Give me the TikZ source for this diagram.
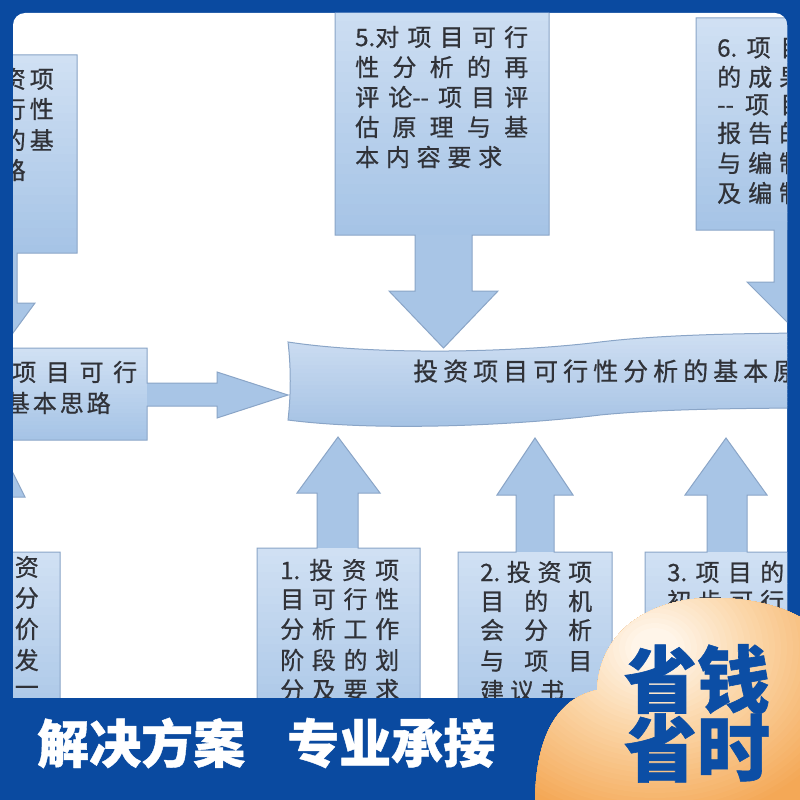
\documentclass[tikz,border=0pt]{standalone}
\usepackage{fontspec}
\newfontfamily\cjk[BoldFeatures={FakeBold=0.8}]{Noto Sans CJK SC}
\newfontfamily\cjkt[FakeBold=0.7]{Noto Sans CJK SC}
\definecolor{framecol}{RGB}{10,74,160}
\definecolor{boxtop}{RGB}{208,224,243}
\definecolor{boxbot}{RGB}{166,196,230}
\definecolor{arrcol}{RGB}{168,197,230}
\definecolor{bordcol}{RGB}{138,165,199}
\definecolor{bantop}{RGB}{206,222,242}
\definecolor{banbot}{RGB}{162,192,227}
\definecolor{txtcol}{RGB}{48,50,56}
\definecolor{cla}{RGB}{255,245,233}
\definecolor{clb}{RGB}{251,214,168}
\definecolor{clc}{RGB}{244,168,86}
\definecolor{slogan}{RGB}{12,78,165}
\newcommand\gradbox[4]{%
  \foreach \gi in {0,...,23}{%
    \pgfmathsetmacro\gp{100-\gi*100/23}%
    \fill[boxtop!\gp!boxbot] (#1,{#2+(#4-#2)*\gi/24}) rectangle (#3,{#2+(#4-#2)*(\gi+1)/24+0.4});
  }}
\tikzset{
  tx/.style={inner sep=0pt, anchor=west, font=\cjkt\fontsize{24}{24}\selectfont, text=txtcol},
  txe/.style={tx, anchor=east},
  outline/.style={draw=bordcol, line width=1pt, line join=miter},
}
\begin{document}
\begin{tikzpicture}[x=1pt,y=-1pt]
\useasboundingbox (0,0) rectangle (800,800);
\fill[framecol] (0,0) rectangle (800,800);
\fill[white, rounded corners=12] (13,13) rectangle (787,760);
\begin{scope}
\clip[rounded corners=12] (13,13) rectangle (787,760);
% banner
\begin{scope}
\clip (288,342) .. controls (380,356) and (520,352) .. (600,342)
  .. controls (650,336) and (720,333) .. (830,333) -- (830,408)
  .. controls (720,408) and (650,410) .. (600,415)
  .. controls (520,425) and (380,432) .. (288,420)
  .. controls (291,395) and (291,367) .. (288,342) -- cycle;
\foreach \gi in {0,...,24}{%
  \pgfmathsetmacro\gp{100-\gi*4}%
  \fill[bantop!\gp!banbot] (280,{333+\gi*4}) rectangle (840,{337.5+\gi*4});
}
\end{scope}
\draw[outline]
  (288,342) .. controls (380,356) and (520,352) .. (600,342)
  .. controls (650,336) and (720,333) .. (830,333) -- (830,408)
  .. controls (720,408) and (650,410) .. (600,415)
  .. controls (520,425) and (380,432) .. (288,420)
  .. controls (291,395) and (291,367) .. (288,342) -- cycle;
% box 5
\fill[arrcol] (335,-10) -- (549,-10) -- (549,235) -- (472,235) -- (472,291) -- (498,291) -- (443.5,348) -- (389,291) -- (415,291) -- (415,235) -- (335,235) -- cycle;
\gradbox{335}{-10}{549}{235}
\draw[outline] (335,-10) -- (549,-10) -- (549,235) -- (472,235) -- (472,291) -- (498,291) -- (443.5,348) -- (389,291) -- (415,291) -- (415,235) -- (335,235) -- cycle;
% box 6
\fill[arrcol] (696,18) -- (860,18) -- (860,230) -- (830,230) -- (830,282) -- (857,282) -- (802,337) -- (747,282) -- (774,282) -- (774,230) -- (696,230) -- cycle;
\gradbox{696}{18}{860}{230}
\draw[outline] (696,18) -- (860,18) -- (860,230) -- (830,230) -- (830,282) -- (857,282) -- (802,337) -- (747,282) -- (774,282) -- (774,230) -- (696,230) -- cycle;
% top-left box
\fill[arrcol] (-100,55) -- (77,55) -- (77,253) -- (17,253) -- (17,303) -- (35,303) -- (2,348) -- (-31,303) -- (-13,303) -- (-13,253) -- (-100,253) -- cycle;
\gradbox{-100}{55}{77}{253}
\draw[outline] (-100,55) -- (77,55) -- (77,253) -- (17,253) -- (17,303) -- (35,303) -- (2,348) -- (-31,303) -- (-13,303) -- (-13,253) -- (-100,253) -- cycle;
% middle-left box
\fill[arrcol] (-100,348) -- (147,348) -- (147,383) -- (217,383) -- (217,372) -- (288,395) -- (217,418) -- (217,406) -- (147,406) -- (147,440) -- (-100,440) -- cycle;
\gradbox{-100}{348}{147}{440}
\draw[outline] (-100,348) -- (147,348) -- (147,383) -- (217,383) -- (217,372) -- (288,395) -- (217,418) -- (217,406) -- (147,406) -- (147,440) -- (-100,440) -- cycle;
% bottom-left box
\fill[arrcol] (-100,740) -- (-100,552) -- (-13,552) -- (-13,497) -- (-27,497) -- (-1,445) -- (25,497) -- (11,497) -- (11,552) -- (60,552) -- (60,740) -- cycle;
\gradbox{-100}{552}{60}{740}
\draw[outline] (-100,740) -- (-100,552) -- (-13,552) -- (-13,497) -- (-27,497) -- (-1,445) -- (25,497) -- (11,497) -- (11,552) -- (60,552) -- (60,740) -- cycle;
% box 1
\fill[arrcol] (257,740) -- (257,548) -- (317,548) -- (317,493) -- (297,493) -- (338,437) -- (380,493) -- (358,493) -- (358,548) -- (420,548) -- (420,740) -- cycle;
\gradbox{257}{548}{420}{740}
\draw[outline] (257,740) -- (257,548) -- (317,548) -- (317,493) -- (297,493) -- (338,437) -- (380,493) -- (358,493) -- (358,548) -- (420,548) -- (420,740) -- cycle;
% box 2
\fill[arrcol] (458,740) -- (458,552) -- (516,552) -- (516,495) -- (497,495) -- (535,438) -- (573,495) -- (554,495) -- (554,552) -- (612,552) -- (612,740) -- cycle;
\gradbox{458}{552}{612}{740}
\draw[outline] (458,740) -- (458,552) -- (516,552) -- (516,495) -- (497,495) -- (535,438) -- (573,495) -- (554,495) -- (554,552) -- (612,552) -- (612,740) -- cycle;
% box 3
\fill[arrcol] (645,740) -- (645,552) -- (707,552) -- (707,495) -- (685,495) -- (726,438) -- (767,495) -- (747,495) -- (747,552) -- (860,552) -- (860,740) -- cycle;
\gradbox{645}{552}{860}{740}
\draw[outline] (645,740) -- (645,552) -- (707,552) -- (707,495) -- (685,495) -- (726,438) -- (767,495) -- (747,495) -- (747,552) -- (860,552) -- (860,740) -- cycle;
% texts
\node[tx, font=\cjkt\fontsize{25}{25}\selectfont] (bn) at (413,371) {\hbox to 385pt{投\hfil 资\hfil 项\hfil 目\hfil 可\hfil 行\hfil 性\hfil 分\hfil 析\hfil 的\hfil 基\hfil 本\hfil 原}};
\node[tx] (t5a) at (355,37) {\hbox to 173pt{5.对\hfil 项\hfil 目\hfil 可\hfil 行}};
\node[tx] (t5b) at (355,67) {\hbox to 173pt{性\hfil 分\hfil 析\hfil 的\hfil 再}};
\node[tx] (t5c) at (355,97) {\hbox to 173pt{评\hfil 论-\kern0pt-\hfil 项\hfil 目\hfil 评}};
\node[tx] (t5d) at (355,127) {\hbox to 173pt{估\hfil 原\hfil 理\hfil 与\hfil 基}};
\node[tx] (t5e) at (355,157) {\hbox to 147pt{本\hfil 内\hfil 容\hfil 要\hfil 求}};
\node[tx] (t6a) at (717,48) {\hbox to 87pt{6.\hfil 项\hfil 目}};
\node[tx] (t6b) at (717,77) {\hbox to 86pt{的\hfil 成\hfil 果}};
\node[tx] (t6c) at (717,105) {\hbox to 87pt{-\kern0pt-\hfil 项\hfil 目}};
\node[tx] (t6d) at (717,133) {\hbox to 86pt{报\hfil 告\hfil 的}};
\node[tx] (t6e) at (717,163) {\hbox to 86pt{与\hfil 编\hfil 制}};
\node[tx] (t6f) at (717,193) {\hbox to 86pt{及\hfil 编\hfil 制}};
\node[txe] (tla) at (54,79) {资\hskip4pt 项};
\node[txe] (tlb) at (54,109) {行\hskip4pt 性};
\node[txe] (tlc) at (54,140) {的\hskip4pt 基};
\node[txe] (tld) at (26,170) {路};
\node[tx] (tma) at (12,372) {\hbox to 125pt{项\hfil 目\hfil 可\hfil 行}};
\node[txe] (tmb) at (111,403) {基\hskip3pt 本\hskip3pt 思\hskip3pt 路};
\node[txe] (tba) at (39,567) {资};
\node[txe] (tbb) at (39,598) {分};
\node[txe] (tbc) at (39,629) {价};
\node[txe] (tbd) at (39,660) {发};
\node[txe] (tbe) at (39,691) {一};
\node[tx] (t1a) at (280,570) {\hbox to 119pt{1.\hfil 投\hfil 资\hfil 项}};
\node[tx] (t1b) at (280,599) {\hbox to 119pt{目\hfil 可\hfil 行\hfil 性}};
\node[tx] (t1c) at (280,629) {\hbox to 119pt{分\hfil 析\hfil 工\hfil 作}};
\node[tx] (t1d) at (280,660) {\hbox to 119pt{阶\hfil 段\hfil 的\hfil 划}};
\node[tx] (t1e) at (280,690) {\hbox to 119pt{分\hfil 及\hfil 要\hfil 求}};
\node[tx] (t2a) at (480,572) {\hbox to 112pt{2.\hfil 投\hfil 资\hfil 项}};
\node[tx] (t2b) at (480,601) {\hbox to 112pt{目\hfil 的\hfil 机}};
\node[tx] (t2c) at (480,630) {\hbox to 112pt{会\hfil 分\hfil 析}};
\node[tx] (t2d) at (480,661) {\hbox to 112pt{与\hfil 项\hfil 目}};
\node[tx] (t2e) at (480,691) {\hbox to 84pt{建\hfil 议\hfil 书}};
\node[tx] (t3a) at (667,572) {\hbox to 117pt{3.\hfil 项\hfil 目\hfil 的}};
\node[tx] (t3b) at (667,601) {\hbox to 117pt{初\hfil 步\hfil 可\hfil 行}};
\end{scope}
% bottom band
\fill[framecol] (0,698) rectangle (800,800);
\node[anchor=west, inner sep=0pt, font=\cjk\bfseries\fontsize{52}{52}\selectfont, text=white] (bt1) at (37,743) {解决方案};
\node[anchor=west, inner sep=0pt, font=\cjk\bfseries\fontsize{52}{52}\selectfont, text=white] (bt2) at (287,743) {专业承接};
% cloud
\begin{scope}
\clip (535,800) .. controls (536,745) and (552,700) .. (597,690)
  .. controls (600,630) and (650,598) .. (713,598)
  .. controls (750,598) and (780,606) .. (800,617) -- (800,800) -- cycle;
\fill[clc] (520,590) rectangle (810,810);
\foreach \r in {190,185,...,5}{%
  \pgfmathsetmacro\qa{min(100,max(0,(\r-85)/95*100))}%
  \pgfmathsetmacro\qb{min(100,max(0,(\r-20)/65*100))}%
  \fill[clc!\qa!clb!\qb!cla] (655,648) ellipse [x radius={1.2*\r}, y radius=\r];
}
\end{scope}
\node[inner sep=0pt, font=\cjk\bfseries\fontsize{73}{73}\selectfont, text=slogan] (s1) at (697,679) {省钱};
\node[inner sep=0pt, font=\cjk\bfseries\fontsize{73}{73}\selectfont, text=slogan] (s2) at (697,748) {省时};
\end{tikzpicture}
\end{document}
